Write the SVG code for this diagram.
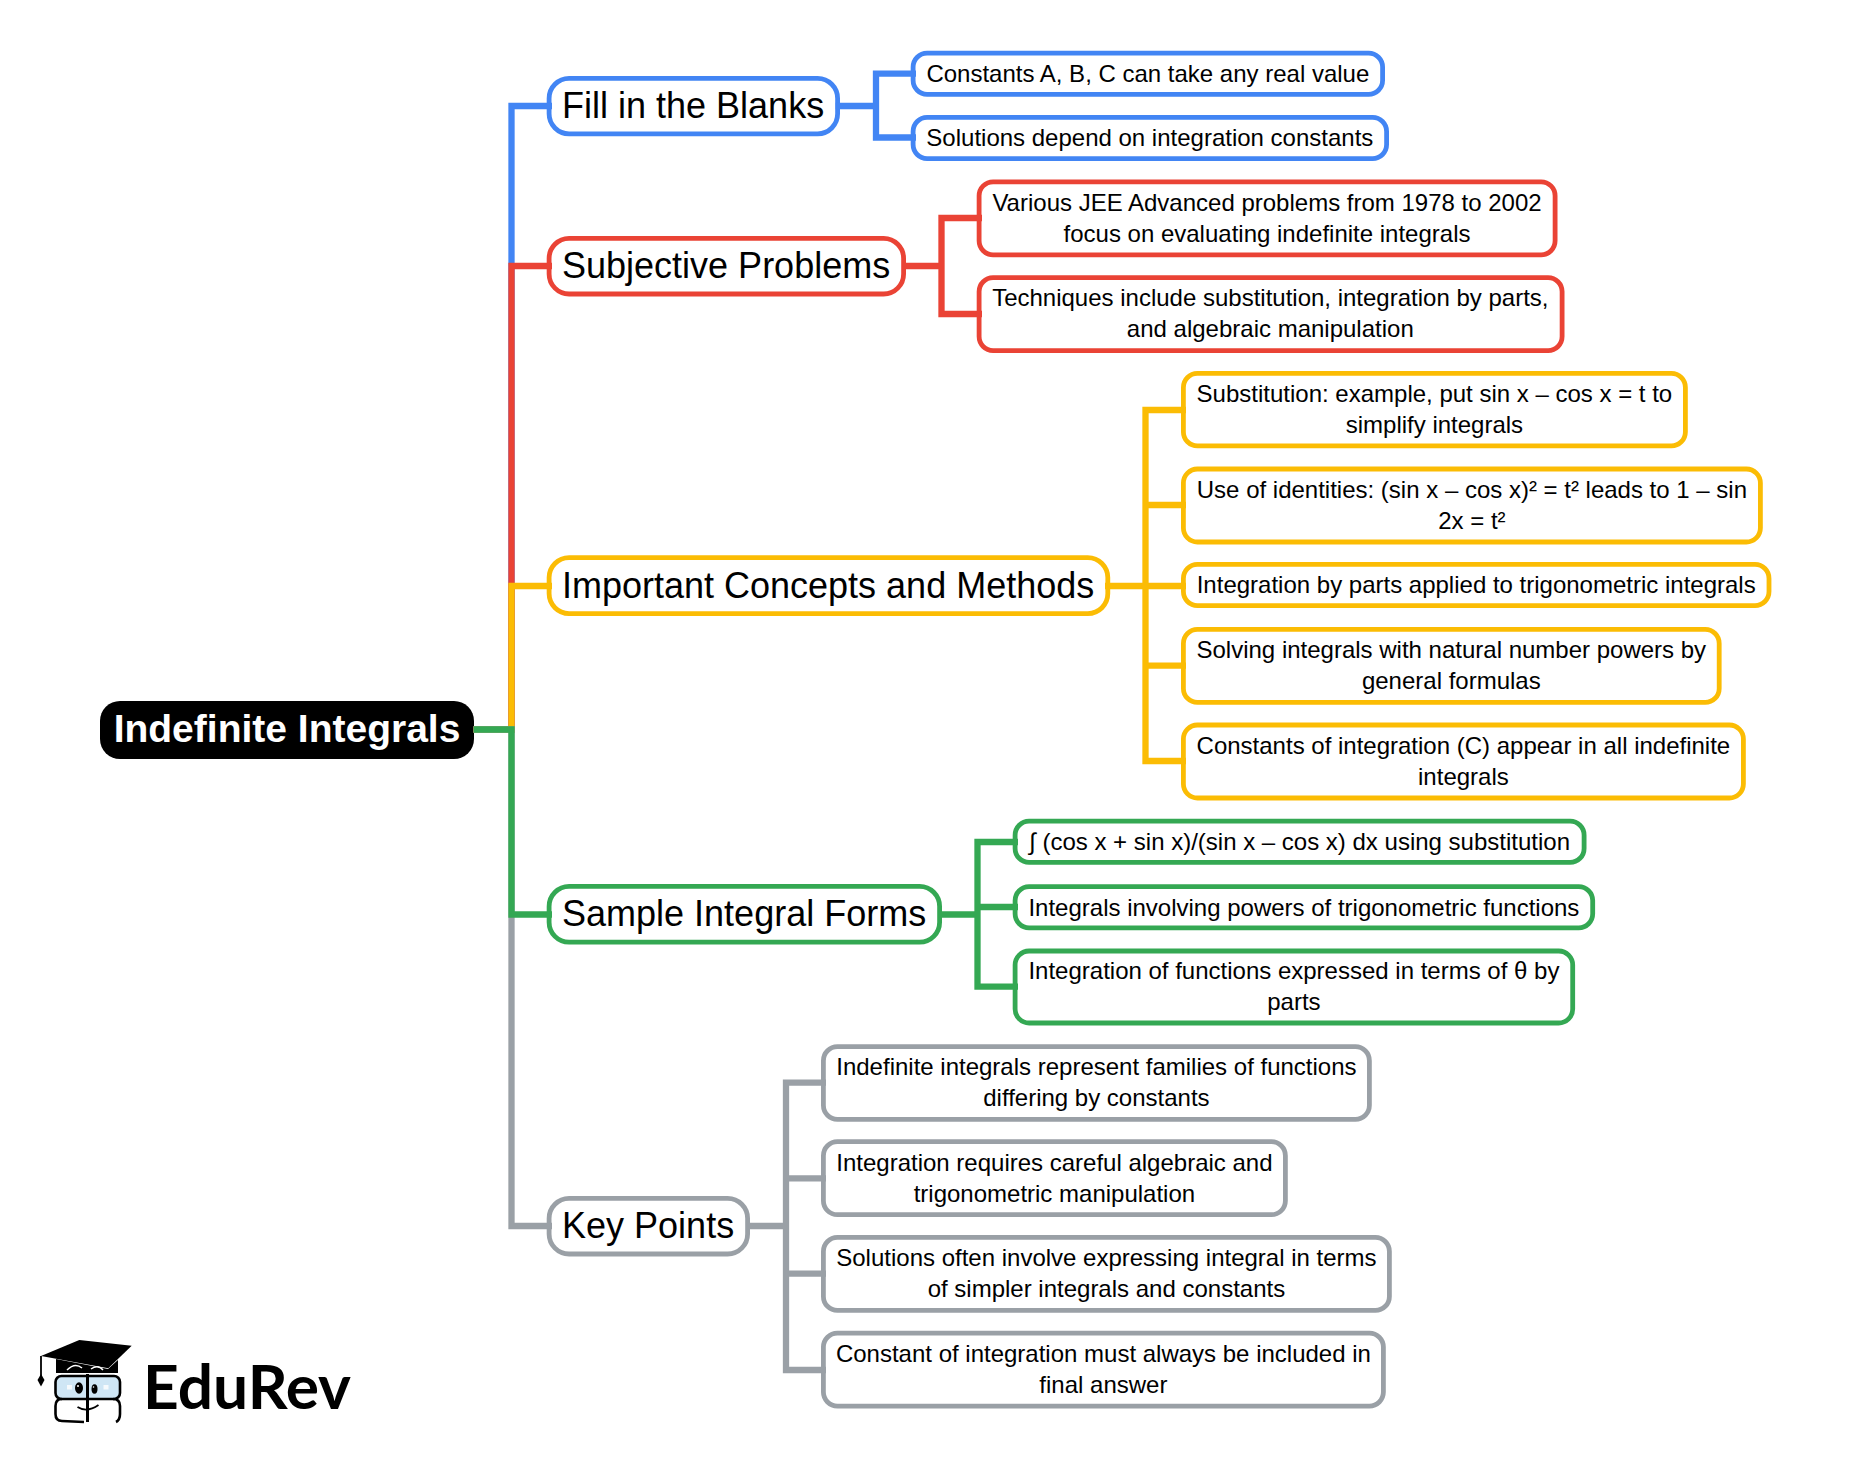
<svg xmlns="http://www.w3.org/2000/svg" width="1872" height="1459" viewBox="0 0 1872 1459">
<style>
text{font-family:"Liberation Sans",Arial,sans-serif;fill:#000;text-anchor:middle}
.l2 text,text.t2{font-size:24px}
text.t1{font-size:36px}
text.t0{font-size:39px;font-weight:700;fill:#fff}
rect{fill:#fff;stroke-width:4.8}
rect.a{rx:20px;ry:20px}
rect.b{rx:14px;ry:14px}
.blue{stroke:#4285F4}.red{stroke:#EA4335}.yellow{stroke:#FBBC04}.green{stroke:#34A853}.grey{stroke:#9AA0A6}
#connectors path{fill:none;stroke-width:6.3}
</style>
<rect width="1872" height="1459" style="fill:#fff;stroke:none"/>
<g id="root"><rect x="100" y="701" width="374" height="58" rx="20" ry="20" style="fill:#000;stroke:none"/><text class="t0" x="287" y="742">Indefinite Integrals</text></g>
<g id="n-fill"><rect class="a blue" x="549.1" y="78.4" width="288.5" height="55.400"/><text class="t1" x="693.1" y="118.200">Fill in the Blanks</text></g>
<g id="n-subjective"><rect class="a red" x="549.1" y="238.4" width="354.5" height="55.6"/><text class="t1" x="726.1" y="278">Subjective Problems</text></g>
<g id="n-important"><rect class="a yellow" x="549.1" y="557.6" width="558.7" height="56"/><text class="t1" x="828.1" y="597.5">Important Concepts and Methods</text></g>
<g id="n-sample"><rect class="a green" x="549.1" y="886.4" width="390.5" height="55.8"/><text class="t1" x="744.1" y="926.400">Sample Integral Forms</text></g>
<g id="n-key"><rect class="a grey" x="549.1" y="1198.4" width="198.5" height="55.6"/><text class="t1" x="648.1" y="1238.400">Key Points</text></g>
<g id="n-b1" class="l2"><rect class="b blue" x="913.1" y="53.1" width="469.5" height="41.2"/><text x="1147.85" y="82">Constants A, B, C can take any real value</text></g>
<g id="n-b2" class="l2"><rect class="b blue" x="913.1" y="117.4" width="473.5" height="41.2"/><text x="1149.85" y="146">Solutions depend on integration constants</text></g>
<g id="n-r1" class="l2"><rect class="b red" x="979.1" y="181.8" width="576" height="73"/><text x="1267" y="210.7">Various JEE Advanced problems from 1978 to 2002</text><text x="1267" y="241.7">focus on evaluating indefinite integrals</text></g>
<g id="n-r2" class="l2"><rect class="b red" x="979.1" y="277.6" width="583" height="73"/><text x="1270.3" y="306">Techniques include substitution, integration by parts,</text><text x="1270.3" y="337">and algebraic manipulation</text></g>
<g id="n-y1" class="l2"><rect class="b yellow" x="1183.4" y="373.4" width="502" height="72.5"/><text x="1434.4" y="402">Substitution: example, put sin x – cos x = t to</text><text x="1434.4" y="433">simplify integrals</text></g>
<g id="n-y2" class="l2"><rect class="b yellow" x="1183.4" y="469" width="577" height="73"/><text x="1471.9" y="498">Use of identities: (sin x – cos x)² = t² leads to 1 – sin</text><text x="1471.9" y="529">2x = t²</text></g>
<g id="n-y3" class="l2"><rect class="b yellow" x="1183.4" y="564.4" width="585.6" height="41.2"/><text x="1476.2" y="593">Integration by parts applied to trigonometric integrals</text></g>
<g id="n-y4" class="l2"><rect class="b yellow" x="1183.4" y="629.4" width="535.8" height="73"/><text x="1451.3" y="657.5">Solving integrals with natural number powers by</text><text x="1451.3" y="688.5">general formulas</text></g>
<g id="n-y5" class="l2"><rect class="b yellow" x="1183.4" y="725" width="560" height="73"/><text x="1463.4" y="754">Constants of integration (C) appear in all indefinite</text><text x="1463.4" y="785">integrals</text></g>
<g id="n-g1" class="l2"><rect class="b green" x="1015.1" y="821.2" width="569" height="41.2"/><text x="1299.6" y="849.500">∫ (cos x + sin x)/(sin x – cos x) dx using substitution</text></g>
<g id="n-g2" class="l2"><rect class="b green" x="1015.1" y="886.6" width="577.6" height="41.2"/><text x="1303.9" y="915.500">Integrals involving powers of trigonometric functions</text></g>
<g id="n-g3" class="l2"><rect class="b green" x="1015.1" y="951" width="557.6" height="72"/><text x="1293.9" y="978.500">Integration of functions expressed in terms of θ by</text><text x="1293.9" y="1009.500">parts</text></g>
<g id="n-k1" class="l2"><rect class="b grey" x="823.4" y="1046.7" width="546" height="72.6"/><text x="1096.4" y="1074.5">Indefinite integrals represent families of functions</text><text x="1096.4" y="1105.5">differing by constants</text></g>
<g id="n-k2" class="l2"><rect class="b grey" x="823.4" y="1141.7" width="462" height="73"/><text x="1054.4" y="1171">Integration requires careful algebraic and</text><text x="1054.4" y="1202">trigonometric manipulation</text></g>
<g id="n-k3" class="l2"><rect class="b grey" x="823.4" y="1237.4" width="566" height="73"/><text x="1106.4" y="1266">Solutions often involve expressing integral in terms</text><text x="1106.4" y="1297">of simpler integrals and constants</text></g>
<g id="n-k4" class="l2"><rect class="b grey" x="823.4" y="1333.1" width="560" height="73"/><text x="1103.4" y="1362">Constant of integration must always be included in</text><text x="1103.4" y="1393">final answer</text></g>
<g id="connectors">
<path class="blue" d="M473.6 729.5H511.5V106H552"/>
<path class="red" d="M473.6 729.5H511.5V266H552"/>
<path class="yellow" d="M473.6 729.5H511.5V586H552"/>
<path class="grey" d="M473.6 729.5H511.5V1226H552"/>
<path class="green" d="M473.6 729.5H511.5V914.5H552"/>
<path class="blue" d="M835.7 106H876V73.7H916M876 106V137.5H916"/>
<path class="red" d="M902 266H941.5V218H982M941.5 266V314H982"/>
<path class="yellow" d="M1105 586H1145.5V410H1186M1145.5 505H1186M1145.5 586H1186M1145.5 586V761H1186M1145.5 665.7H1186"/>
<path class="green" d="M938 914.5H977.5V842H1018M977.5 907H1018M977.5 914.5V986.7H1018"/>
<path class="grey" d="M746 1226H786V1082.7H826M786 1178.3H826M786 1226V1370H826M786 1273.7H826"/>
</g>
<g id="logo">
<path d="M41 1356L79.3 1340L131.7 1345.7L108.3 1368.3Z" fill="#000"/>
<path d="M56 1359V1373H118V1360L108 1369Z" fill="#000"/>
<path d="M67 1370Q75 1362 82 1368M91 1369Q98 1364 103 1370" fill="none" stroke="#fff" stroke-width="1.5"/>
<path d="M41 1356V1376" fill="none" stroke="#000" stroke-width="1.8"/>
<path d="M41 1374L37.500 1380L41 1386.500L44.500 1380Z" fill="#000"/>
<rect x="55.500" y="1376" width="64.500" height="23" rx="6" ry="6" style="fill:#cfe6f5;stroke:#000;stroke-width:2.6"/>
<path d="M62 1399Q55.500 1399 55.500 1406V1414Q55.500 1421 62 1421L84 1422M113 1399Q120 1399 120 1406V1414Q120 1420 116 1422" fill="none" stroke="#000" stroke-width="2.600"/>
<path d="M87.500 1374V1422" fill="none" stroke="#000" stroke-width="3"/>
<ellipse cx="79" cy="1388" rx="4" ry="5.800" fill="#000"/>
<ellipse cx="94.500" cy="1389" rx="3" ry="4.700" fill="#000"/>
<circle cx="78" cy="1386" r="1" fill="#fff"/><circle cx="93.500" cy="1387" r="0.800" fill="#fff"/>
<path d="M67 1385h5v4.500h-5zM103.500 1385h5v4.500h-5z" fill="#fff" opacity=".8"/>
<path d="M77.500 1407Q87 1413 98.500 1405" fill="none" stroke="#000" stroke-width="1.800"/>
<text x="247" y="1409" style="font-family:'Lato','Open Sans',sans-serif;font-size:61px;font-weight:700" textLength="208" lengthAdjust="spacingAndGlyphs">EduRev</text>
</g>
</svg>
